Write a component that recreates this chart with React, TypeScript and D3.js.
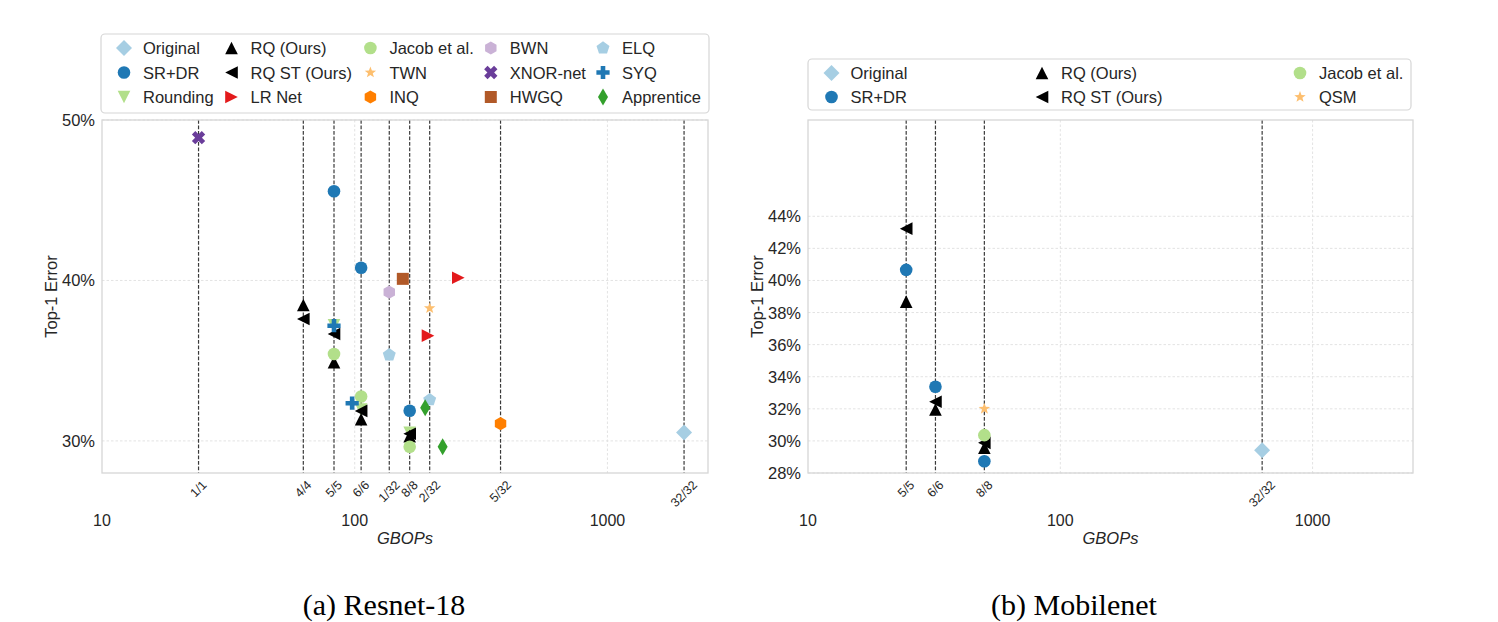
import React, { useEffect, useRef } from 'react';
import * as d3 from 'd3';

type Pt = [number, number]; // [GBOPs, top-1 error in %]

// ---- Resnet-18 ----
const resnetBitLabels = ['1/1', '4/4', '5/5', '6/6', '1/32', '8/8', '2/32', '5/32', '32/32'];
const resnetBitGbops = [24.1, 62.6, 82.8, 106, 137, 165, 198, 377.6, 2010];

const resnetOriginal: Pt[] = [[2010, 30.52]];
const resnetSrDr: Pt[] = [[82.8, 45.56], [106, 40.79], [165, 31.88]];
const resnetRounding: Pt[] = [[82.8, 37.2], [106, 31.95], [165, 30.5]];
const resnetRq: Pt[] = [[62.6, 38.47], [82.8, 34.9], [106, 31.35], [165, 30.3]];
const resnetRqSt: Pt[] = [[62.6, 37.6], [82.8, 36.66], [106, 31.87], [165, 30.45]];
const resnetLrNet: Pt[] = [[257, 40.17], [195, 36.56]];
const resnetJacob: Pt[] = [[82.8, 35.42], [106, 32.77], [165, 29.64]];
const resnetTwn: Pt[] = [[198, 38.27]];
const resnetInq: Pt[] = [[377.6, 31.08]];
const resnetBwn: Pt[] = [[137, 39.27]];
const resnetXnor: Pt[] = [[24.1, 48.9]];
const resnetHwgq: Pt[] = [[155, 40.1]];
const resnetElq: Pt[] = [[137, 35.36], [198, 32.56]];
const resnetSyq: Pt[] = [[82.8, 37.18], [97.7, 32.35]];
const resnetApprentice: Pt[] = [[190, 32.06], [222.8, 29.64]];
const resnetYTicks = [30, 40, 50];

// ---- Mobilenet ----
const mobileBitLabels = ['5/5', '6/6', '8/8', '32/32'];
const mobileBitGbops = [24.5, 32, 50, 631];

const mobileOriginal: Pt[] = [[631, 29.42]];
const mobileSrDr: Pt[] = [[24.5, 40.66], [32, 33.38], [50, 28.73]];
const mobileRq: Pt[] = [[24.5, 38.68], [32, 31.96], [50, 29.57]];
const mobileRqSt: Pt[] = [[24.5, 43.23], [32, 32.44], [50, 29.88]];
const mobileJacob: Pt[] = [[50, 30.36]];
const mobileQsm: Pt[] = [[50, 32.0]];
const mobileYTicks = [28, 30, 32, 34, 36, 38, 40, 42, 44];

const xMajorTicks = [10, 100, 1000];
const xDomain: [number, number] = [10, 2500];
const yDomain: [number, number] = [28, 50];

// ---- marker shapes ----
const poly = (pts: number[][]) => 'M' + pts.map(p => `${p[0].toFixed(2)},${p[1].toFixed(2)}`).join('L') + 'Z';
const ngon = (n: number, r: number) =>
  poly(d3.range(n).map(k => {
    const a = -Math.PI / 2 + (k * 2 * Math.PI) / n;
    return [r * Math.cos(a), r * Math.sin(a)];
  }));
const cross = (a: number, t: number, rot: number) => {
  const pts = [[-t, -a], [t, -a], [t, -t], [a, -t], [a, t], [t, t], [t, a], [-t, a], [-t, t], [-a, t], [-a, -t], [-t, -t]];
  const c = Math.cos(rot), s = Math.sin(rot);
  return poly(pts.map(([x, y]) => [x * c - y * s, x * s + y * c]));
};
const star = (ro: number, ri: number) =>
  poly(d3.range(10).map(k => {
    const a = -Math.PI / 2 + (k * Math.PI) / 5;
    const r = k % 2 ? ri : ro;
    return [r * Math.cos(a), r * Math.sin(a)];
  }));

const markers: Record<string, string> = {
  diamond: poly([[0, -8], [8, 0], [0, 8], [-8, 0]]),
  circle: 'M6.3,0A6.3,6.3 0 1,1 -6.3,0A6.3,6.3 0 1,1 6.3,0Z',
  triDown: poly([[-6.3, -6.3], [6.3, -6.3], [0, 6.3]]),
  triUp: poly([[0, -6.3], [6.3, 6.3], [-6.3, 6.3]]),
  triLeft: poly([[-6.3, 0], [6.3, -6.3], [6.3, 6.3]]),
  triRight: poly([[6.3, 0], [-6.3, -6.3], [-6.3, 6.3]]),
  hexagon: ngon(6, 6.6),
  pentagon: ngon(5, 6.8),
  star: star(6, 2.5),
  xFilled: cross(7, 2.4, Math.PI / 4),
  plus: cross(6.6, 2.3, 0),
  square: poly([[-6, -6], [6, -6], [6, 6], [-6, 6]]),
  thinDiamond: poly([[0, -8.5], [5, 0], [0, 8.5], [-5, 0]]),
};

interface Series { name: string; data: Pt[]; marker: string; color: string }

const resnetSeries: Series[] = [
  { name: 'Original', data: resnetOriginal, marker: 'diamond', color: '#a6cee3' },
  { name: 'SR+DR', data: resnetSrDr, marker: 'circle', color: '#1f78b4' },
  { name: 'Rounding', data: resnetRounding, marker: 'triDown', color: '#b2df8a' },
  { name: 'RQ (Ours)', data: resnetRq, marker: 'triUp', color: '#000000' },
  { name: 'RQ ST (Ours)', data: resnetRqSt, marker: 'triLeft', color: '#000000' },
  { name: 'LR Net', data: resnetLrNet, marker: 'triRight', color: '#e31a1c' },
  { name: 'Jacob et al.', data: resnetJacob, marker: 'circle', color: '#b2df8a' },
  { name: 'TWN', data: resnetTwn, marker: 'star', color: '#fdbf6f' },
  { name: 'INQ', data: resnetInq, marker: 'hexagon', color: '#ff7f00' },
  { name: 'BWN', data: resnetBwn, marker: 'hexagon', color: '#cab2d6' },
  { name: 'XNOR-net', data: resnetXnor, marker: 'xFilled', color: '#6a3d9a' },
  { name: 'HWGQ', data: resnetHwgq, marker: 'square', color: '#b15928' },
  { name: 'ELQ', data: resnetElq, marker: 'pentagon', color: '#a6cee3' },
  { name: 'SYQ', data: resnetSyq, marker: 'plus', color: '#1f78b4' },
  { name: 'Apprentice', data: resnetApprentice, marker: 'thinDiamond', color: '#33a02c' },
];

const mobileSeries: Series[] = [
  { name: 'Original', data: mobileOriginal, marker: 'diamond', color: '#a6cee3' },
  { name: 'SR+DR', data: mobileSrDr, marker: 'circle', color: '#1f78b4' },
  { name: 'RQ (Ours)', data: mobileRq, marker: 'triUp', color: '#000000' },
  { name: 'RQ ST (Ours)', data: mobileRqSt, marker: 'triLeft', color: '#000000' },
  { name: 'Jacob et al.', data: mobileJacob, marker: 'circle', color: '#b2df8a' },
  { name: 'QSM', data: mobileQsm, marker: 'star', color: '#fdbf6f' },
];

const FONT = '"Liberation Sans", Arial, sans-serif';
const TEXT = '#262626';

interface Panel {
  left: number; right: number; top: number; bottom: number;
  series: Series[]; bitLabels: string[]; bitGbops: number[]; yTicks: number[];
  legend: { x0: number; x1: number; y0: number; y1: number; cols: number[]; rows: number[] };
  caption: string; captionX: number;
}

const panels: Panel[] = [
  {
    left: 102, right: 708, top: 120, bottom: 473,
    series: resnetSeries, bitLabels: resnetBitLabels, bitGbops: resnetBitGbops, yTicks: resnetYTicks,
    legend: { x0: 101, x1: 709, y0: 34, y1: 113, cols: [124, 231.5, 370.4, 490.8, 603], rows: [48, 72.5, 97] },
    caption: '(a) Resnet-18', captionX: 384,
  },
  {
    left: 808, right: 1413, top: 120, bottom: 473,
    series: mobileSeries, bitLabels: mobileBitLabels, bitGbops: mobileBitGbops, yTicks: mobileYTicks,
    legend: { x0: 808, x1: 1411, y0: 59, y1: 110, cols: [831.5, 1042, 1300], rows: [73, 97] },
    caption: '(b) Mobilenet', captionX: 1074,
  },
];

export default function App() {
  const svgRef = useRef<SVGSVGElement>(null);

  useEffect(() => {
    if (!svgRef.current) return;
    const svg = d3.select(svgRef.current);
    svg.selectAll('*').remove();

    panels.forEach(p => {
      const x = d3.scaleLog().domain(xDomain).range([p.left, p.right]);
      const y = d3.scaleLinear().domain(yDomain).range([p.bottom, p.top]);
      const g = svg.append('g');

      // grid
      g.selectAll('.gx').data(xMajorTicks.slice(1)).enter().append('line')
        .attr('x1', d => x(d)).attr('x2', d => x(d)).attr('y1', p.top).attr('y2', p.bottom)
        .attr('stroke', '#e3e3e3').attr('stroke-width', 1).attr('stroke-dasharray', '2.5,2');
      g.selectAll('.gy').data(p.yTicks).enter().append('line')
        .attr('x1', p.left).attr('x2', p.right).attr('y1', d => y(d)).attr('y2', d => y(d))
        .attr('stroke', '#e3e3e3').attr('stroke-width', 1).attr('stroke-dasharray', '2.5,2');

      // bit-width lines
      g.selectAll('.bit').data(p.bitGbops).enter().append('line')
        .attr('x1', d => x(d)).attr('x2', d => x(d)).attr('y1', p.top).attr('y2', p.bottom)
        .attr('stroke', '#3a3a3a').attr('stroke-width', 1.2).attr('stroke-dasharray', '3.7,1.8');

      // frame
      g.append('rect').attr('x', p.left).attr('y', p.top)
        .attr('width', p.right - p.left).attr('height', p.bottom - p.top)
        .attr('fill', 'none').attr('stroke', '#d6d6d6').attr('stroke-width', 1.3);

      // markers
      p.series.forEach(s => {
        g.selectAll(null).data(s.data).enter().append('path')
          .attr('d', markers[s.marker])
          .attr('transform', d => `translate(${x(d[0])},${y(d[1])})`)
          .attr('fill', s.color);
      });

      // y ticks
      g.selectAll('.yt').data(p.yTicks).enter().append('text')
        .attr('x', p.left - 7).attr('y', d => y(d) + 6)
        .attr('text-anchor', 'end').attr('font-family', FONT).attr('font-size', 16.5).attr('fill', TEXT)
        .text(d => `${d}%`);

      // x major ticks
      g.selectAll('.xt').data(xMajorTicks).enter().append('text')
        .attr('x', d => x(d)).attr('y', 526)
        .attr('text-anchor', 'middle').attr('font-family', FONT).attr('font-size', 16).attr('fill', TEXT)
        .text(d => `${d}`);

      // bit-width labels, rotated 45 degrees
      p.bitLabels.forEach((lab, i) => {
        const t = g.append('text')
          .attr('font-family', FONT).attr('font-size', 12.5).attr('fill', TEXT)
          .attr('text-anchor', 'middle').attr('dominant-baseline', 'central')
          .text(lab);
        const w = (t.node() as SVGTextElement).getComputedTextLength();
        const h = (w + 11) * Math.SQRT1_2;
        t.attr('transform', `translate(${x(p.bitGbops[i])},${479 + h / 2}) rotate(-45)`);
      });

      // axis titles
      g.append('text')
        .attr('transform', `translate(${p.left - 51},${(p.top + p.bottom) / 2}) rotate(-90)`)
        .attr('text-anchor', 'middle').attr('dominant-baseline', 'central')
        .attr('font-family', FONT).attr('font-size', 16.5).attr('fill', TEXT)
        .text('Top-1 Error');
      g.append('text')
        .attr('x', (p.left + p.right) / 2).attr('y', 544)
        .attr('text-anchor', 'middle').attr('font-style', 'italic')
        .attr('font-family', FONT).attr('font-size', 16.5).attr('fill', TEXT)
        .text('GBOPs');

      // legend
      const L = p.legend;
      g.append('rect').attr('x', L.x0).attr('y', L.y0)
        .attr('width', L.x1 - L.x0).attr('height', L.y1 - L.y0).attr('rx', 4)
        .attr('fill', '#fff').attr('stroke', '#d6d6d6').attr('stroke-width', 1.2);
      const nRows = L.rows.length;
      p.series.forEach((s, i) => {
        const cx = L.cols[Math.floor(i / nRows)];
        const cy = L.rows[i % nRows];
        g.append('path').attr('d', markers[s.marker])
          .attr('transform', `translate(${cx},${cy})`).attr('fill', s.color);
        g.append('text').attr('x', cx + 19).attr('y', cy + 6)
          .attr('font-family', FONT).attr('font-size', 16.5).attr('fill', TEXT)
          .text(s.name);
      });

      // caption
      g.append('text').attr('x', p.captionX).attr('y', 615)
        .attr('text-anchor', 'middle').attr('font-family', '"Liberation Serif", "Times New Roman", serif')
        .attr('font-size', 30).attr('fill', '#000')
        .text(p.caption);
    });
  }, []);

  return (
    <svg
      ref={svgRef}
      width={1498}
      height={622}
      style={{ position: 'absolute', left: 0, top: 0, background: '#fff' }}
    />
  );
}
